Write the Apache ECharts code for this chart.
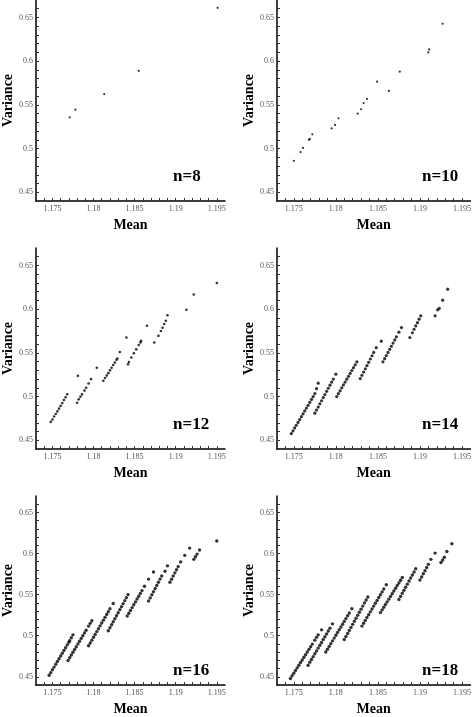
<!DOCTYPE html>
<html><head><meta charset="utf-8">
<script src="https://cdn.jsdelivr.net/npm/echarts@6/dist/echarts.min.js"></script>
<style>html,body{margin:0;background:#fff}#c{width:474px;height:717px}</style>
</head><body><div id="c"></div>
<script>
const panelLabels = ['n=8','n=10','n=12','n=14','n=16','n=18'];
const xTicks = ['1.175','1.18','1.185','1.19','1.195'];
const yTicks = ['0.45','0.5','0.55','0.6','0.65'];
const n8 = [[1.1771,.5357],[1.1778,.5445],[1.1813,.5624],[1.1855,.589],[1.1951,.661]];
const n10 = [[1.1750,.486],[1.1758,.496],[1.1761,.5007],[1.1768,.510],[1.1769,.5110],[1.1772,.5163],[1.1795,.523],[1.1799,.527],[1.1803,.5346],[1.1826,.540],[1.1830,.545],[1.1833,.552],[1.1837,.5567],[1.1849,.5765],[1.1863,.566],[1.1876,.588],[1.1910,.610],[1.1911,.6134],[1.1927,.6428]];
const n12 = [[1.1748,.4710],[1.1750,.4738],[1.1752,.4772],[1.1754,.4801],[1.1756,.4830],[1.1758,.4862],[1.1760,.4893],[1.1762,.4925],[1.1764,.4960],[1.1766,.4992],[1.1768,.5027],
[1.1780,.4930],[1.1782,.4968],[1.1784,.4998],[1.1786,.5025],[1.1789,.5068],[1.1791,.5101],[1.1794,.5150],[1.1797,.5200],[1.1781,.5237],[1.1804,.5330],
[1.1812,.5180],[1.1814,.5212],[1.1816,.5240],[1.1818,.5268],[1.1820,.5300],[1.1822,.5330],[1.1824,.5361],[1.1826,.5390],[1.1828,.5420],[1.1829,.5435],[1.1832,.5510],[1.1840,.5676],
[1.1842,.5370],[1.1843,.5395],[1.1846,.5447],[1.1849,.5495],[1.1852,.5540],[1.1855,.5590],[1.1857,.5620],[1.1858,.5637],[1.1865,.5810],
[1.1874,.5618],[1.1879,.5695],[1.1882,.5750],[1.1884,.5788],[1.1886,.5830],[1.1888,.5868],[1.1890,.5930],[1.1913,.5992],[1.1922,.6168],[1.1950,.6300]];
const n14 = [[1.1747,.4576],[1.1749,.4608],[1.1751,.4641],[1.1753,.4672],[1.1755,.4704],[1.1757,.4737],[1.1759,.4770],[1.1761,.4803],[1.1763,.4836],[1.1765,.4868],[1.1767,.4900],[1.1769,.4934],[1.1771,.4967],[1.1773,.5000],[1.1775,.5034],[1.1777,.5090],[1.1779,.5153],
[1.1775,.4810],[1.1777,.4845],[1.1779,.4880],[1.1781,.4917],[1.1783,.4952],[1.1785,.4988],[1.1787,.5023],[1.1789,.5060],[1.1791,.5095],[1.1793,.5130],[1.1795,.5166],[1.1797,.5200],[1.1800,.5256],
[1.1801,.5000],[1.1803,.5033],[1.1805,.5066],[1.1807,.5100],[1.1809,.5133],[1.1811,.5166],[1.1813,.5199],[1.1815,.5232],[1.1817,.5265],[1.1819,.5298],[1.1821,.5331],[1.1823,.5364],[1.1825,.5397],
[1.1829,.5206],[1.1831,.5243],[1.1833,.5280],[1.1835,.5318],[1.1837,.5355],[1.1839,.5392],[1.1841,.5430],[1.1843,.5467],[1.1845,.5505],[1.1848,.5560],[1.1854,.5634],
[1.1856,.5397],[1.1858,.5433],[1.1860,.5469],[1.1862,.5505],[1.1864,.5540],[1.1866,.5576],[1.1868,.5612],[1.1870,.5648],[1.1872,.5684],[1.1875,.5737],[1.1878,.5790],
[1.1888,.5676],[1.1891,.5730],[1.1893,.5770],[1.1895,.5808],[1.1897,.5846],[1.1899,.5885],[1.1901,.5924],
[1.1918,.5924],[1.1921,.5992],[1.1923,.6010],[1.1927,.6103],[1.1933,.6229]];
const n16 = [[1.1746,.4519],[1.1748,.4550],[1.1750,.4585],[1.1752,.4618],[1.1754,.4652],[1.1756,.4686],[1.1758,.4720],[1.1760,.4753],[1.1762,.4787],[1.1764,.4820],[1.1766,.4854],[1.1768,.4888],[1.1770,.4921],[1.1771,.4938],[1.1773,.4975],[1.1775,.5010],
[1.1769,.4698],[1.1771,.4732],[1.1773,.4765],[1.1775,.4799],[1.1777,.4832],[1.1779,.4866],[1.1781,.4900],[1.1783,.4933],[1.1785,.4967],[1.1787,.5000],[1.1789,.5034],[1.1791,.5067],[1.1794,.5117],[1.1796,.5150],[1.1798,.5182],
[1.1794,.4877],[1.1796,.4912],[1.1798,.4946],[1.1800,.4981],[1.1802,.5016],[1.1804,.5050],[1.1806,.5085],[1.1808,.5120],[1.1810,.5154],[1.1812,.5189],[1.1814,.5223],[1.1816,.5258],[1.1818,.5292],[1.1820,.5327],[1.1824,.5391],
[1.1818,.5060],[1.1820,.5097],[1.1822,.5133],[1.1824,.5170],[1.1826,.5207],[1.1828,.5243],[1.1830,.5280],[1.1832,.5317],[1.1834,.5353],[1.1836,.5390],[1.1838,.5427],[1.1840,.5463],[1.1842,.5500],
[1.1841,.5239],[1.1843,.5273],[1.1845,.5308],[1.1847,.5342],[1.1849,.5377],[1.1851,.5411],[1.1853,.5446],[1.1855,.5480],[1.1857,.5515],[1.1859,.5549],[1.1862,.5601],
[1.1867,.5422],[1.1869,.5460],[1.1871,.5498],[1.1873,.5536],[1.1875,.5574],[1.1877,.5612],[1.1879,.5650],[1.1881,.5689],[1.1883,.5727],[1.1887,.5785],[1.1890,.5850],[1.1867,.5689],[1.1873,.5776],
[1.1893,.5650],[1.1895,.5688],[1.1897,.5727],[1.1899,.5765],[1.1901,.5803],[1.1903,.5841],[1.1906,.5898],[1.1911,.5978],[1.1917,.6066],
[1.1922,.5929],[1.1924,.5960],[1.1926,.5993],[1.1929,.6043],[1.1950,.6153]];
const n18 = [[1.1746,.4480],[1.1748,.4512],[1.1750,.4544],[1.1752,.4576],[1.1754,.4609],[1.1756,.4641],[1.1758,.4673],[1.1760,.4705],[1.1762,.4737],[1.1764,.4769],[1.1766,.4801],[1.1768,.4834],[1.1770,.4866],[1.1772,.4898],[1.1775,.4946],[1.1777,.4980],[1.1779,.5010],[1.1783,.5071],
[1.1767,.4641],[1.1769,.4676],[1.1771,.4710],[1.1773,.4745],[1.1775,.4780],[1.1777,.4814],[1.1779,.4849],[1.1781,.4884],[1.1783,.4918],[1.1785,.4953],[1.1787,.4988],[1.1789,.5022],[1.1791,.5057],[1.1793,.5092],[1.1796,.5144],
[1.1788,.4801],[1.1790,.4835],[1.1792,.4869],[1.1794,.4903],[1.1796,.4937],[1.1798,.4971],[1.1800,.5005],[1.1802,.5039],[1.1804,.5073],[1.1806,.5106],[1.1808,.5140],[1.1810,.5174],[1.1812,.5208],[1.1814,.5242],[1.1816,.5276],[1.1819,.5327],
[1.1810,.4953],[1.1812,.4990],[1.1814,.5027],[1.1816,.5064],[1.1818,.5101],[1.1820,.5138],[1.1822,.5175],[1.1824,.5212],[1.1826,.5249],[1.1828,.5286],[1.1830,.5323],[1.1832,.5360],[1.1834,.5397],[1.1836,.5434],[1.1838,.5471],
[1.1831,.5117],[1.1833,.5152],[1.1835,.5186],[1.1837,.5221],[1.1839,.5256],[1.1841,.5290],[1.1843,.5325],[1.1845,.5360],[1.1847,.5394],[1.1849,.5429],[1.1851,.5464],[1.1853,.5498],[1.1855,.5533],[1.1857,.5568],[1.1860,.5620],
[1.1853,.5281],[1.1855,.5314],[1.1857,.5347],[1.1859,.5380],[1.1861,.5412],[1.1863,.5445],[1.1865,.5478],[1.1867,.5511],[1.1869,.5544],[1.1871,.5577],[1.1873,.5610],[1.1875,.5642],[1.1877,.5675],[1.1879,.5708],
[1.1875,.5441],[1.1877,.5478],[1.1879,.5516],[1.1881,.5553],[1.1883,.5590],[1.1885,.5627],[1.1887,.5665],[1.1889,.5702],[1.1891,.5739],[1.1893,.5776],[1.1895,.5814],
[1.1900,.5677],[1.1902,.5715],[1.1904,.5753],[1.1906,.5791],[1.1908,.5830],[1.1910,.5868],[1.1913,.5929],[1.1918,.6005],
[1.1925,.5890],[1.1927,.5922],[1.1929,.5954],[1.1932,.6024],[1.1938,.6119]];
const panelData = [n8,n10,n12,n14,n16,n18];

const FONT = '"Liberation Serif","DejaVu Serif",serif';
const lefts = [28, 277], tops = [0, 248, 496], W = 197, H = 201;
const sizes = [2.2, 2.2, 2.6, 3.2, 3.4, 3.4];
const grids = [], xAxes = [], yAxes = [], series = [], titles = [];
panelData.forEach((d, i) => {
  const c = i % 2, r = Math.floor(i / 2);
  grids.push({left: lefts[c], top: tops[r], width: W, height: H});
  xAxes.push({type:'value', gridIndex:i, min:1.173, max:1.196, interval:0.001,
    name:'Mean', nameLocation:'middle', nameGap:17,
    nameTextStyle:{fontFamily:FONT, fontWeight:'bold', fontSize:14, color:'#000'},
    axisLine:{lineStyle:{color:'#000', width:1.5}},
    axisTick:{inside:true, length:3, lineStyle:{color:'#333'}},
    axisLabel:{fontFamily:FONT, fontSize:8, color:'#555', margin:4, showMinLabel:false, showMaxLabel:false,
      formatter: v => { const s = (Math.round(v*1000)/1000).toFixed(3).replace(/0+$/,''); return xTicks.includes(s) ? s : ''; }},
    splitLine:{show:false}});
  yAxes.push({type:'value', gridIndex:i, min:0.44, max:0.67, interval:0.01,
    name:'Variance', nameLocation:'middle', nameGap:21,
    nameTextStyle:{fontFamily:FONT, fontWeight:'bold', fontSize:14, color:'#000'},
    axisLine:{show:true, lineStyle:{color:'#000', width:1.5}},
    axisTick:{show:true, inside:true, length:3, lineStyle:{color:'#333'}},
    axisLabel:{fontFamily:FONT, fontSize:8, color:'#555', margin:3, showMinLabel:false, showMaxLabel:false,
      formatter: v => { const s = (Math.round(v*100)/100).toFixed(2).replace(/0+$/,''); return yTicks.includes(s) ? s : ''; }},
    splitLine:{show:false}});
  series.push({type:'scatter', xAxisIndex:i, yAxisIndex:i, data:d, symbolSize: sizes[i],
    itemStyle:{color:'#000'}, silent:true, animation:false});
  titles.push({text:panelLabels[i], left: lefts[c] + 140, top: tops[r] + (r===2?161:163),
    textStyle:{fontFamily:FONT, fontWeight:'bold', fontSize:17, color:'#000'}});
});
const chart = echarts.init(document.getElementById('c'));
chart.setOption({animation:false, title:titles, grid:grids, xAxis:xAxes, yAxis:yAxes, series});
</script></body></html>
